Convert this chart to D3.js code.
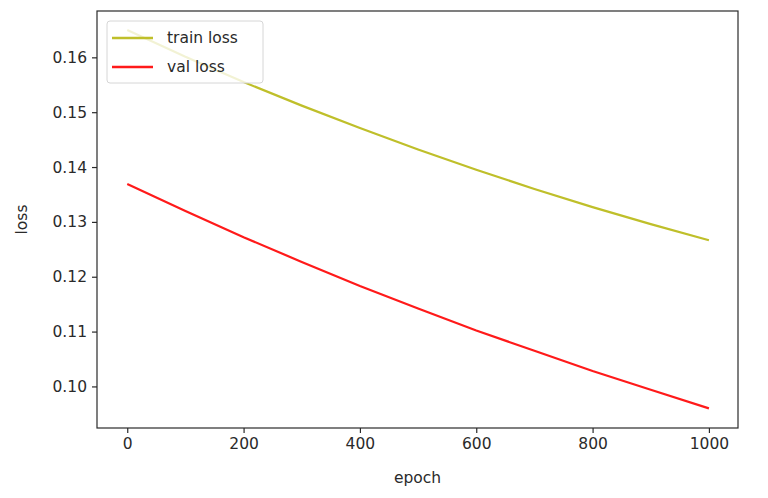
<!DOCTYPE html>
<html>
<head>
<meta charset="utf-8">
<script src="https://cdn.jsdelivr.net/npm/d3@7"></script>
<style>
  body { margin: 0; background: #fff; }
  svg { display: block; font-family: "DejaVu Sans", sans-serif; }
</style>
</head>
<body>
<svg id="chart" width="768" height="498"></svg>
<script>
// values
const epochs    = [0, 100, 200, 300, 400, 500, 600, 700, 800, 900, 1000];
const trainLoss = [0.1650, 0.1601, 0.1555, 0.1512, 0.1471, 0.1432, 0.1395, 0.1360, 0.1327, 0.1296, 0.12665];
const valLoss   = [0.1369, 0.1320, 0.1272, 0.1227, 0.1183, 0.1142, 0.1102, 0.1065, 0.1028, 0.0994, 0.0960];
const xTicks = [0, 200, 400, 600, 800, 1000];
const yTicks = [0.10, 0.11, 0.12, 0.13, 0.14, 0.15, 0.16];

const series = [
  { name: "train loss", values: trainLoss, color: "#bfbf2a" },
  { name: "val loss",   values: valLoss,   color: "#ff1a1a" }
];

const svg = d3.select("#chart");
const m = { top: 11, right: 30, bottom: 70, left: 97 };
const W = 768 - m.left - m.right;
const H = 498 - m.top - m.bottom;
const ink = "#2a2a2a";
const fs = "15.5px";

const g = svg.append("g").attr("transform", `translate(${m.left},${m.top})`);

const x = d3.scaleLinear().domain([-52, 1050]).range([0, W]);
const y = d3.scaleLinear().domain([0.09242, 0.16845]).range([H, 0]);

// axes
const xAxis = g.append("g")
  .attr("transform", `translate(0,${H})`)
  .call(d3.axisBottom(x).tickValues(xTicks).tickSize(5).tickPadding(5).tickFormat(d3.format("d")));
const yAxis = g.append("g")
  .call(d3.axisLeft(y).tickValues(yTicks).tickSize(5).tickPadding(5).tickFormat(d3.format(".2f")));

[xAxis, yAxis].forEach(a => {
  a.select(".domain").remove();
  a.selectAll("line").attr("stroke", ink).attr("stroke-width", 1.2);
  a.selectAll("text").attr("fill", ink).style("font-size", fs).style("font-family", "DejaVu Sans");
});

// lines
const line = d3.line().x((d, i) => x(epochs[i])).y(d => y(d));
series.forEach(s => {
  g.append("path")
    .datum(s.values)
    .attr("fill", "none")
    .attr("stroke", s.color)
    .attr("stroke-width", 2.2)
    .attr("d", line);
});

// frame
g.append("rect")
  .attr("width", W).attr("height", H)
  .attr("fill", "none").attr("stroke", ink).attr("stroke-width", 1.2);

// axis labels
g.append("text")
  .attr("x", W / 2).attr("y", H + 55)
  .attr("text-anchor", "middle")
  .attr("fill", ink).style("font-size", fs)
  .text("epoch");
g.append("text")
  .attr("transform", `translate(${-70},${H / 2}) rotate(-90)`)
  .attr("text-anchor", "middle")
  .attr("fill", ink).style("font-size", fs)
  .text("loss");

// legend
const legend = g.append("g").attr("transform", "translate(10,10)");
legend.append("rect")
  .attr("width", 156).attr("height", 62).attr("rx", 3)
  .attr("fill", "white").attr("fill-opacity", 0.8)
  .attr("stroke", "#d6d6d6");
series.forEach((s, i) => {
  const row = legend.append("g").attr("transform", `translate(0,${17 + i * 29})`);
  row.append("line")
    .attr("x1", 5).attr("x2", 46)
    .attr("stroke", s.color).attr("stroke-width", 2.5);
  row.append("text")
    .attr("x", 60).attr("dy", "0.35em")
    .attr("fill", ink).style("font-size", fs)
    .text(s.name);
});
</script>
</body>
</html>
